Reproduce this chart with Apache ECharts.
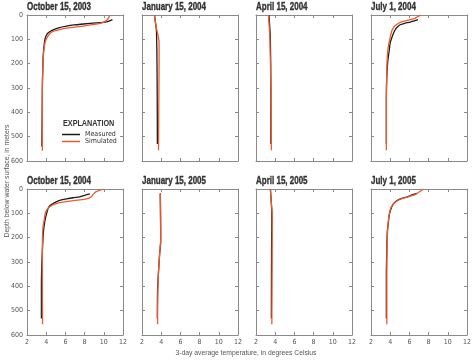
<!DOCTYPE html>
<html><head><meta charset="utf-8">
<script src="https://cdn.jsdelivr.net/npm/echarts@6/dist/echarts.min.js"></script>
<style>html,body{margin:0;padding:0;background:#fff}#c{width:474px;height:363px}</style>
</head><body><div id="c"></div>
<script>
// Panel titles
var panelTitles = ['October 15, 2003','January 15, 2004','April 15, 2004','July 1, 2004',
                   'October 15, 2004','January 15, 2005','April 15, 2005','July 1, 2005'];
var xTicks = [2,4,6,8,10,12];
var yTicks = [0,100,200,300,400,500,600];
// [temperature °C, depth m]
var oct2003Measured = [[10.9,19],[10.3,28],[9.2,32],[7.9,37],[6.9,41],[6.1,46],[5.3,53],[4.8,60],[4.4,68],[4.1,78],[3.9,95],[3.8,117],[3.7,160],[3.65,213],[3.6,300],[3.58,400],[3.55,540]];
var oct2003Simulated = [[10.6,0],[10.5,12],[10.3,22],[9.8,32],[8.8,40],[7.9,46],[6.8,51],[5.8,56],[5.1,63],[4.6,70],[4.3,80],[4.1,92],[3.9,110],[3.8,131],[3.7,170],[3.65,213],[3.6,300],[3.6,450],[3.6,558]];
var jan2004Measured = [[3.3,0],[3.4,30],[3.5,63],[3.55,150],[3.58,300],[3.6,530]];
var jan2004Simulated = [[3.3,0],[3.4,30],[3.55,63],[3.7,90],[3.78,110],[3.78,200],[3.75,350],[3.72,556]];
var apr2004Measured = [[3.35,0],[3.45,60],[3.5,104],[3.55,300],[3.55,530]];
var apr2004Simulated = [[3.3,0],[3.4,60],[3.45,104],[3.55,300],[3.6,556]];
var jul2004Measured = [[6.9,19],[6.5,24],[6.1,29],[5.5,34],[5.1,39],[4.8,47],[4.6,56],[4.4,70],[4.2,90],[4.0,115],[3.9,145],[3.75,190],[3.65,250],[3.6,350],[3.6,530]];
var jul2004Simulated = [[7.2,0],[6.8,8],[6.5,15],[5.8,22],[5.1,29],[4.7,38],[4.4,49],[4.2,62],[4.1,76],[3.95,100],[3.8,131],[3.7,170],[3.65,220],[3.6,350],[3.6,556]];
var oct2004Measured = [[8.55,20],[8.0,26],[7.5,32],[6.8,36],[6.1,41],[5.5,46],[5.1,52],[4.7,60],[4.4,68],[4.2,80],[4.1,93],[3.95,115],[3.8,148],[3.7,180],[3.65,216],[3.55,300],[3.5,400],[3.5,532]];
var oct2004Simulated = [[10.0,0],[9.6,5],[9.2,11],[8.9,22],[8.7,32],[8.2,41],[7.2,46],[6.1,52],[5.3,57],[4.8,63],[4.4,72],[4.2,79],[4.0,90],[3.9,100],[3.8,125],[3.65,162],[3.6,250],[3.6,400],[3.62,556]];
var jan2005Measured = [[3.9,18],[3.92,100],[3.95,216],[3.85,260],[3.7,353],[3.62,420],[3.6,532]];
var jan2005Simulated = [[3.9,18],[3.95,100],[3.95,200],[3.85,260],[3.72,340],[3.65,420],[3.62,556]];
var apr2005Measured = [[3.5,0],[3.6,60],[3.65,100],[3.62,250],[3.6,532]];
var apr2005Simulated = [[3.5,0],[3.6,60],[3.7,110],[3.68,300],[3.65,556]];
var jul2005Measured = [[6.8,18],[6.3,24],[5.8,32],[5.2,39],[4.8,45],[4.5,54],[4.25,66],[4.05,85],[3.9,107],[3.8,140],[3.7,175],[3.65,250],[3.6,350],[3.6,532]];
var jul2005Simulated = [[7.45,0],[7.1,10],[6.65,22],[6.0,30],[5.45,36],[5.0,43],[4.6,52],[4.3,63],[4.05,79],[3.9,105],[3.8,134],[3.7,200],[3.65,300],[3.65,556]];

var measured = [oct2003Measured,jan2004Measured,apr2004Measured,jul2004Measured,oct2004Measured,jan2005Measured,apr2005Measured,jul2005Measured];
var simulated = [oct2003Simulated,jan2004Simulated,apr2004Simulated,jul2004Simulated,oct2004Simulated,jan2005Simulated,apr2005Simulated,jul2005Simulated];

var FONT = '"Liberation Sans Narrow","DejaVu Sans Condensed","Liberation Sans",sans-serif';
var measureCtx = document.createElement('canvas').getContext('2d');
function widthOf(text, font){ measureCtx.font = font; return measureCtx.measureText(text).width; }
var TITLE_FONT = 'bold 10px "Liberation Sans",sans-serif';
var titleScale = 64 / widthOf('October 15, 2003', TITLE_FONT);
var YNAME_FONT = '8px "Liberation Sans",sans-serif';
var XNAME_FONT = '8px "Liberation Sans",sans-serif';
var yName = 'Depth below water surface, in meters';
var xName = '3-day average temperature, in degrees Celsius';
var yScale = 113 / widthOf(yName, YNAME_FONT);
var xScale = 141 / widthOf(xName, XNAME_FONT);

var lefts = [27,142,256,371], tops = [15,189], W = 96, H = 146;
var axisCol = '#8a8a8a';
var grids=[], xAxes=[], yAxes=[], series=[], graphics=[];
for (var i=0;i<8;i++){
  var r = Math.floor(i/4), c = i%4;
  grids.push({left:lefts[c], top:tops[r], width:W, height:H});
  graphics.push({type:'text', x:lefts[c], y:tops[r]-8, scaleX:titleScale,
    style:{text:panelTitles[i], font:TITLE_FONT, fill:'#333', stroke:'#333', lineWidth:0.35,
      textVerticalAlign:'middle', textAlign:'left'}});
  var common = {type:'value', min:2, max:12, interval:2, gridIndex:i,
    axisLine:{show:true,onZero:false,lineStyle:{color:axisCol,width:1}},
    axisTick:{show:true,inside:true,length:3,lineStyle:{color:axisCol}},
    splitLine:{show:false}};
  xAxes.push(Object.assign({}, common, {position:'bottom',
    axisLabel:{show:r===1,fontFamily:FONT,fontSize:7,color:'#555',margin:4,
      formatter:function(v){return xTicks.indexOf(v)>=0?String(v):'';}}}));
  xAxes.push(Object.assign({}, common, {position:'top', axisLabel:{show:false}}));
  var ycommon = {type:'value', min:0, max:600, interval:100, inverse:true, gridIndex:i,
    axisLine:{show:true,onZero:false,lineStyle:{color:axisCol,width:1}},
    axisTick:{show:true,inside:true,length:3,lineStyle:{color:axisCol}},
    splitLine:{show:false}};
  yAxes.push(Object.assign({}, ycommon, {position:'left',
    axisLabel:{show:c===0,fontFamily:FONT,fontSize:7,color:'#555',margin:4,
      formatter:function(v){return yTicks.indexOf(v)>=0?String(v):'';}}}));
  yAxes.push(Object.assign({}, ycommon, {position:'right', axisLabel:{show:false}}));
  series.push({name:'Measured', type:'line', xAxisIndex:2*i, yAxisIndex:2*i, data:measured[i],
    symbol:'none', smooth:0.3, lineStyle:{color:'#1b1b1b',width:1.3}, itemStyle:{color:'#1b1b1b'}});
  series.push({name:'Simulated', type:'line', xAxisIndex:2*i, yAxisIndex:2*i, data:simulated[i],
    symbol:'none', smooth:0.3, lineStyle:{color:'#ef5a2c',width:1.3}, itemStyle:{color:'#ef5a2c'}});
}
graphics.push({type:'text', x:63, y:124, scaleX:0.85,
  style:{text:'EXPLANATION', font:'bold 8.5px "Liberation Sans",sans-serif', fill:'#333', textVerticalAlign:'middle'}});
graphics.push({type:'text', x:7, y:181, rotation:Math.PI/2, scaleX:yScale,
  style:{text:yName, font:YNAME_FONT, fill:'#555', textAlign:'center', textVerticalAlign:'middle'}});
graphics.push({type:'text', x:246, y:353, scaleX:xScale,
  style:{text:xName, font:XNAME_FONT, fill:'#555', textAlign:'center', textVerticalAlign:'middle'}});

var chart = echarts.init(document.getElementById('c'), null, {renderer:'canvas'});
chart.setOption({
  animation:false,
  backgroundColor:'#fff',
  grid:grids, xAxis:xAxes, yAxis:yAxes, series:series,
  legend:{data:['Measured','Simulated'], orient:'vertical', left:62, top:131, padding:0,
    icon:'rect', itemWidth:18, itemHeight:1.5, itemGap:0, selectedMode:false,
    textStyle:{fontFamily:FONT,fontSize:7,color:'#333'}},
  graphic:graphics
});
</script></body></html>
